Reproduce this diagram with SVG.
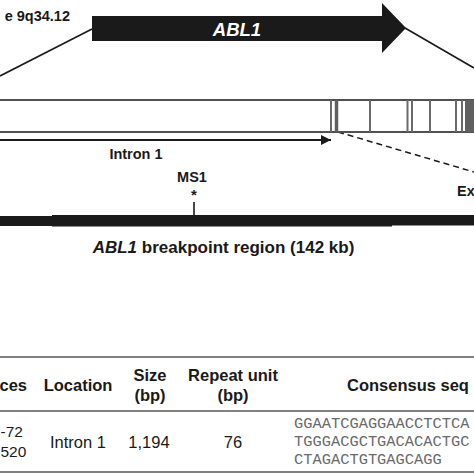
<svg xmlns="http://www.w3.org/2000/svg" width="474" height="474" viewBox="0 0 474 474">
<style>
.b{font-family:"Liberation Sans",Arial,sans-serif;font-weight:bold;fill:#1a1a1a}
.r{font-family:"Liberation Sans",Arial,sans-serif;fill:#1a1a1a}
.m{font-family:"Liberation Mono","Courier New",monospace;fill:#6a6a6a;font-size:15.4px}
.ex{stroke:#6a6a6a;stroke-width:2}
.tl{stroke:#808080;stroke-width:2}
</style>
<defs>
<marker id="ah" viewBox="0 0 10 10" refX="10" refY="5" markerWidth="11" markerHeight="10" markerUnits="userSpaceOnUse" orient="auto"><path d="M0,0 L10,5 L0,10 Z" fill="#1a1a1a"/></marker>
</defs>
<rect width="474" height="474" fill="#fff"/>
<g id="chromosome-label"><text class="b" x="70" y="21" font-size="14.5" text-anchor="end">e 9q34.12</text></g>
<g id="abl1-gene">
<path d="M92,16 H382 V3 L406,28 L382,53 V41 H92 Z" fill="#1a1a1a"/>
<text class="b" x="237" y="36" font-size="18.5" font-style="italic" text-anchor="middle" style="fill:#fff">ABL1</text>
</g>
<g id="connectors" fill="none">
<line x1="92" y1="29" x2="0" y2="76" stroke="#1a1a1a" stroke-width="1.6"/>
<line x1="405" y1="28" x2="474" y2="68" stroke="#1a1a1a" stroke-width="1.6"/>
<line x1="0" y1="140" x2="331" y2="140" stroke="#1a1a1a" stroke-width="2" marker-end="url(#ah)"/>
<line x1="338" y1="132" x2="474" y2="172" stroke="#1a1a1a" stroke-width="1.5" stroke-dasharray="6,4"/>
<line x1="194" y1="202" x2="194" y2="216" stroke="#1a1a1a" stroke-width="1.6"/>
</g>
<g id="gene-structure">
<line x1="0" y1="100" x2="474" y2="100" stroke="#505050" stroke-width="2"/>
<line x1="0" y1="132" x2="474" y2="132" stroke="#505050" stroke-width="2"/>
<line class="ex" x1="331" y1="100" x2="331" y2="132"/>
<line x1="336.5" y1="100" x2="336.5" y2="132" stroke="#606060" stroke-width="3.5"/>
<line class="ex" x1="370" y1="100" x2="370" y2="132"/>
<line class="ex" x1="407.5" y1="100" x2="407.5" y2="132"/>
<line class="ex" x1="412" y1="100" x2="412" y2="132"/>
<line class="ex" x1="430" y1="100" x2="430" y2="132"/>
<line class="ex" x1="456" y1="100" x2="456" y2="132"/>
<line class="ex" x1="462" y1="100" x2="462" y2="132"/>
<rect x="465" y="100" width="9" height="32" fill="#606060"/>
</g>
<g id="intron-label"><text class="b" x="136" y="159" font-size="14.5" text-anchor="middle">Intron 1</text></g>
<g id="ms1">
<text class="b" x="192" y="182" font-size="14.5" text-anchor="middle">MS1</text>
<text class="b" x="194" y="200" font-size="15" text-anchor="middle">*</text>
</g>
<g id="exon-label"><text class="b" x="457" y="196" font-size="14.5">Ex</text></g>
<g id="breakpoint-region">
<rect x="0" y="216" width="52" height="10" fill="#1a1a1a"/>
<rect x="52" y="215" width="340" height="11.5" fill="#1a1a1a"/>
<rect x="392" y="215" width="82" height="10.5" fill="#1a1a1a"/>
<text class="b" x="223.5" y="253" font-size="17" text-anchor="middle"><tspan font-style="italic">ABL1</tspan> breakpoint region (142 kb)</text>
</g>
<g id="table">
<line class="tl" x1="0" y1="357" x2="474" y2="357"/>
<line class="tl" x1="0" y1="411" x2="474" y2="411"/>
<line class="tl" x1="0" y1="472" x2="474" y2="472"/>
<text class="b" x="27" y="391" font-size="16.5" text-anchor="end">ces</text>
<text class="b" x="78" y="391" font-size="16.5" text-anchor="middle">Location</text>
<text class="b" x="150" y="381" font-size="16.5" text-anchor="middle">Size</text>
<text class="b" x="150" y="401" font-size="16.5" text-anchor="middle">(bp)</text>
<text class="b" x="233" y="381" font-size="16.5" text-anchor="middle">Repeat unit</text>
<text class="b" x="233" y="401" font-size="16.5" text-anchor="middle">(bp)</text>
<text class="b" x="347" y="391" font-size="16.5">Consensus seq</text>
<text class="r" x="0.5" y="437" font-size="15.5">-72</text>
<text class="r" x="0.5" y="457" font-size="15.5">520</text>
<text class="r" x="78" y="448" font-size="16.5" text-anchor="middle">Intron 1</text>
<text class="r" x="149" y="448" font-size="16.5" text-anchor="middle">1,194</text>
<text class="r" x="233" y="448" font-size="16.5" text-anchor="middle">76</text>
<text class="m" x="294" y="428">GGAATCGAGGAACCTCTCA</text>
<text class="m" x="294" y="446">TGGGACGCTGACACACTGC</text>
<text class="m" x="294" y="464">CTAGACTGTGAGCAGG</text>
</g>
</svg>
